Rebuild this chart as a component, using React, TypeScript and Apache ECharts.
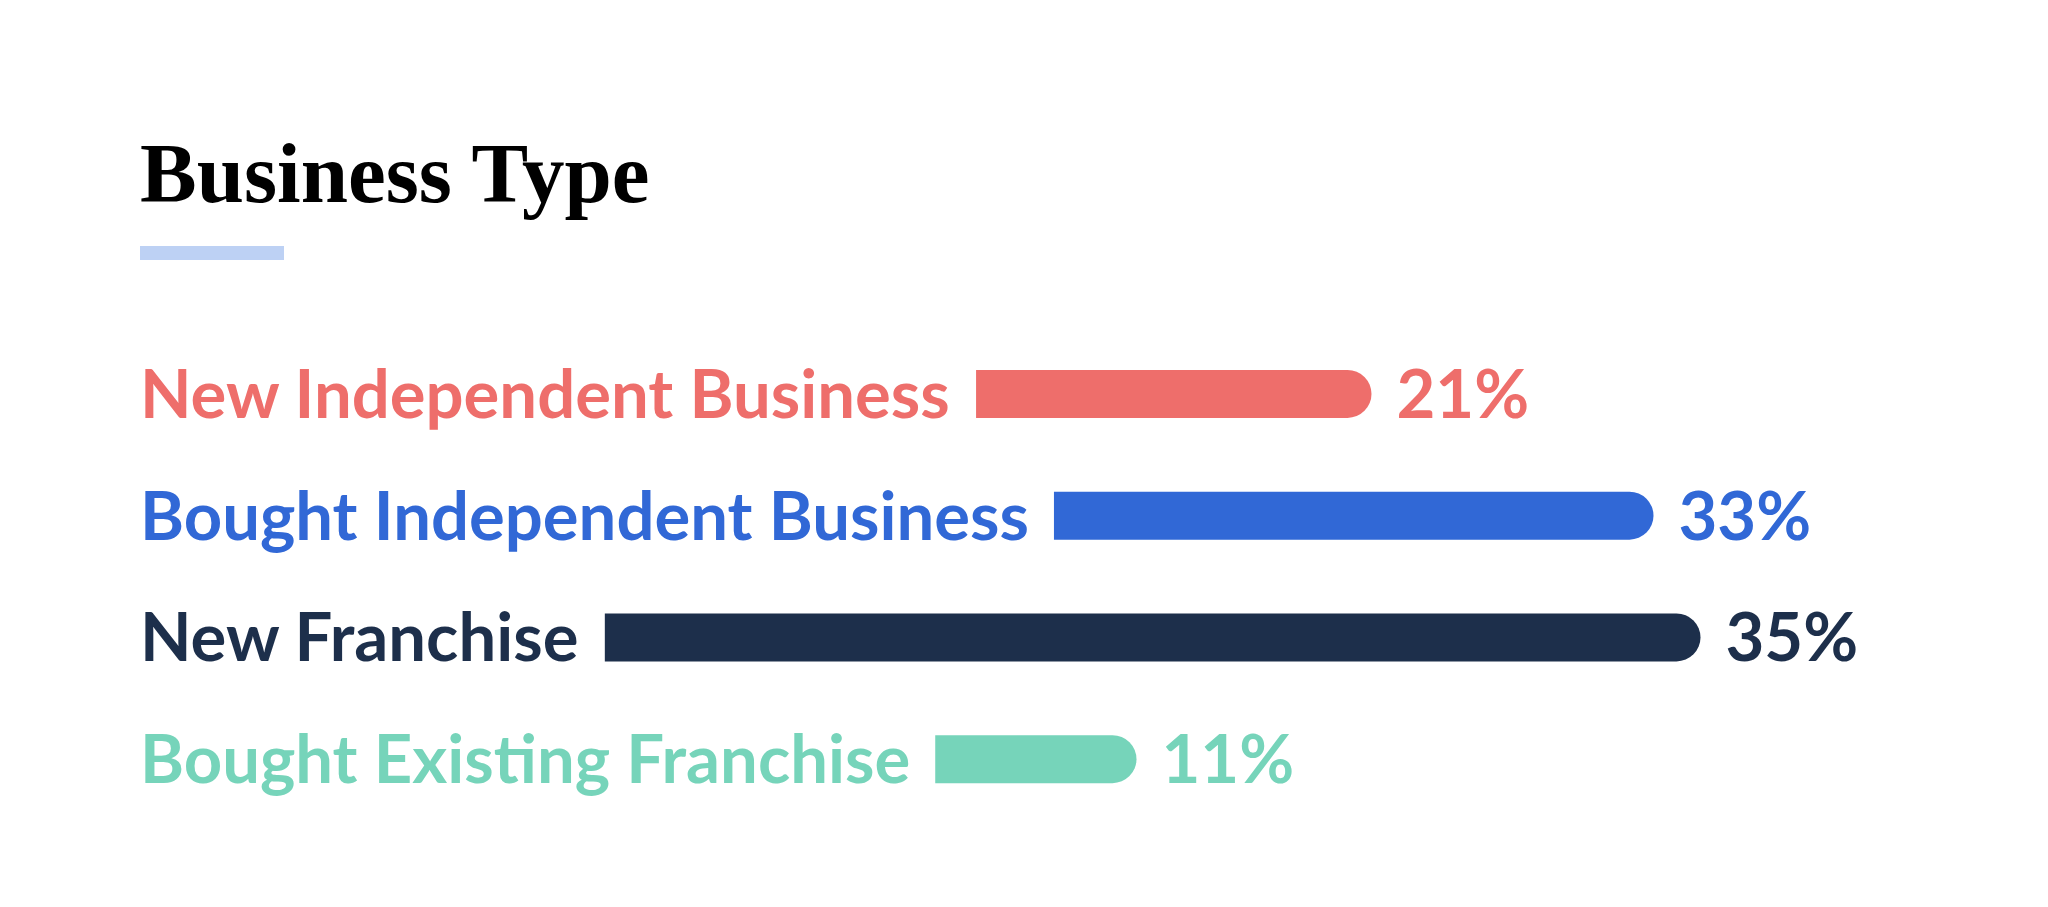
import { useEffect, useRef } from "react";
import * as echarts from "echarts";

const TITLE = "Business Type";
const CATEGORIES = [
  "New Independent Business",
  "Bought Independent Business",
  "New Franchise",
  "Bought Existing Franchise",
];
const VALUES = [21, 33, 35, 11];
const COLORS = ["#EE6E6B", "#3168D6", "#1D2F4B", "#76D4BA"];

const LABEL_FAMILY = "Lato";
const LABEL_SIZE = 67;
const LABEL_LEFT = 132;
const BAR_HEIGHT = 48;
const GAP = 25;

let measureCtx: CanvasRenderingContext2D | null = null;
const textWidth = (text: string) => {
  if (!measureCtx) measureCtx = document.createElement("canvas").getContext("2d");
  if (!measureCtx) return text.length * LABEL_SIZE * 0.5;
  measureCtx.font = `bold ${LABEL_SIZE}px ${LABEL_FAMILY}`;
  return measureCtx.measureText(text).width;
};

export default function App() {
  const chartRef = useRef<HTMLDivElement>(null);

  useEffect(() => {
    if (!chartRef.current) return;
    const chart = echarts.init(chartRef.current, null, { renderer: "svg" });

    const labelStyle = {
      fontFamily: LABEL_FAMILY,
      fontSize: LABEL_SIZE,
      fontWeight: "bold",
      align: "left",
      verticalAlign: "middle",
    };

    const option = {
      backgroundColor: "#ffffff",
      animation: false,
      tooltip: { show: false },
      title: {
        text: TITLE,
        left: 132,
        top: 122,
        padding: 0,
        textStyle: {
          fontFamily: "Liberation Serif",
          fontWeight: "bold",
          fontSize: 85,
          lineHeight: 85,
          color: "#000000",
        },
      },
      graphic: [
        {
          type: "rect",
          left: 132,
          top: 238,
          shape: { width: 144, height: 14 },
          style: { fill: "#BDD1F4" },
        },
      ],
      grid: { left: 870, right: 3, top: 325, bottom: 95 },
      xAxis: { type: "value", min: 0, max: 50, show: false },
      yAxis: { type: "category", data: CATEGORIES, inverse: true, show: false },
      series: [
        {
          type: "custom",
          clip: false,
          encode: { x: 0, y: 1 },
          data: VALUES.map((v, i) => [v, i]),
          renderItem: (_params: any, api: any) => {
            const i = api.value(1);
            const v = api.value(0);
            const [xEnd, yc] = api.coord([v, i]);
            const color = COLORS[i];
            const name = CATEGORIES[i];
            const x0 = LABEL_LEFT + textWidth(name) + GAP;
            return {
              type: "group",
              children: [
                {
                  type: "text",
                  style: { ...labelStyle, text: name, x: LABEL_LEFT, y: yc - 2, fill: color },
                },
                {
                  type: "rect",
                  shape: {
                    x: x0,
                    y: yc - BAR_HEIGHT / 2,
                    width: xEnd - x0,
                    height: BAR_HEIGHT,
                    r: [0, BAR_HEIGHT / 2, BAR_HEIGHT / 2, 0],
                  },
                  style: { fill: color },
                },
                {
                  type: "text",
                  style: { ...labelStyle, text: `${v}%`, x: xEnd + GAP, y: yc - 2, fill: color },
                },
              ],
            };
          },
        },
      ],
    };

    chart.setOption(option);
    return () => chart.dispose();
  }, []);

  return (
    <div
      ref={chartRef}
      style={{
        position: "fixed",
        left: 0,
        top: 0,
        width: "100vw",
        height: "100vh",
        background: "#ffffff",
      }}
    />
  );
}
